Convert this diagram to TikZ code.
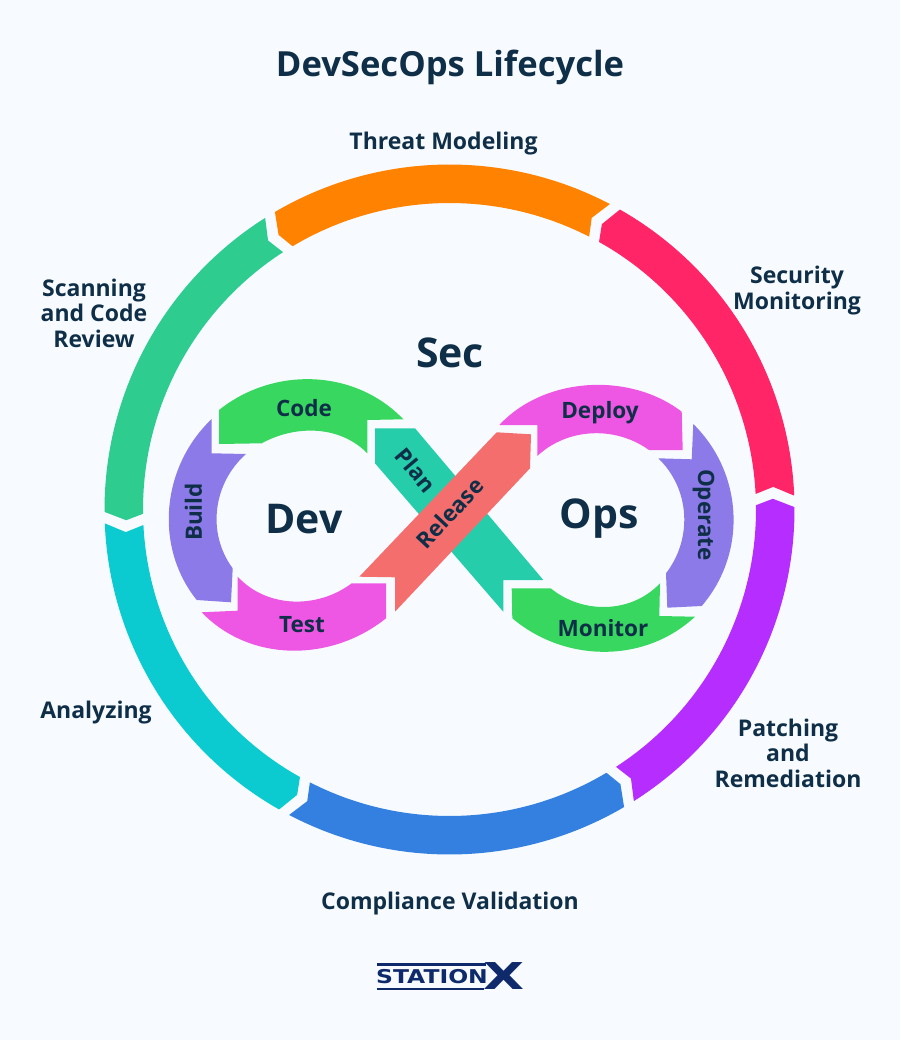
\documentclass[tikz,border=0pt]{standalone}
\usepackage{fontspec}
\setmainfont{Open Sans}
\newfontfamily\logofont{DejaVu Sans}
\definecolor{bgblue}{HTML}{F7FBFF}
\definecolor{inkblue}{HTML}{0F2E47}
\definecolor{logoblue}{HTML}{0F2A6B}
\definecolor{ringorange}{HTML}{FF8200}
\definecolor{ringred}{HTML}{FF2567}
\definecolor{ringpurple}{HTML}{B52EFF}
\definecolor{ringblue}{HTML}{3380E0}
\definecolor{ringcyan}{HTML}{0BCBD0}
\definecolor{ringgreen}{HTML}{2ECC8F}
\definecolor{loopgreen}{HTML}{38D75F}
\definecolor{loopviolet}{HTML}{8B7AE8}
\definecolor{loopmagenta}{HTML}{EE57E4}
\definecolor{loopteal}{HTML}{25CDAB}
\definecolor{loopcoral}{HTML}{F56E6E}
\tikzset{
	outerlabel/.style={text=inkblue, align=center, font=\fontsize{23}{25.5}\selectfont\bfseries},
	looplabel/.style={text=inkblue, font=\fontsize{22.5}{25}\selectfont\bfseries},
	biglabel/.style={text=inkblue, font=\fontsize{41}{45}\selectfont\bfseries}
}
% one piece of the ring, #2 = turn in degrees
\def\ringseg#1#2{\fill[#1, shift={(449.5,509.5)}, rotate=#2] (-120.4:345) arc (-120.4:-62.3:345) -- (-64:324.5) -- (-62.9:306.5) arc (-62.9:-120.8:306.5) -- (-121.9:323.5) -- cycle;}

\begin{document}
\begin{tikzpicture}[x=1pt, y=-1pt]
	%%%%% START %%%%%
	
	\fill[bgblue] (0, 0) rectangle (900, 1040);
	\useasboundingbox (0, 0) rectangle (900, 1040);
	
	\node[text=inkblue, font=\fontsize{34.6}{38}\selectfont\bfseries] (title) at (450, 67) {DevSecOps Lifecycle};
	
	%%%%% outer ring %%%%%
	\ringseg{ringorange}{0}
	\ringseg{ringred}{-60}
	\ringseg{ringpurple}{-120}
	\ringseg{ringblue}{-180}
	\ringseg{ringcyan}{-240}
	\ringseg{ringgreen}{-300}
	
	\node[outerlabel] (threat) at (443.5, 144) {Threat Modeling};
	\node[outerlabel] (monitoring) at (797, 290.5) {Security\\Monitoring};
	\node[outerlabel] (patching) at (788, 753) {Patching\\and\\Remediation};
	\node[outerlabel] (compliance) at (450, 904) {Compliance Validation};
	\node[outerlabel] (analyzing) at (96, 713) {Analyzing};
	\node[outerlabel] (scanning) at (94, 313) {Scanning\\and Code\\Review};
	
	%%%%% left loop %%%%%
	\fill[loopgreen] (219, 410) .. controls (273.7, 366.3) and (355, 368.7) .. (403.3, 419.3) -- (367.3, 420) -- (367.3, 453.3) .. controls (340, 425.4) and (295.9, 424.6) .. (261.7, 443.3) -- (219, 444) -- cycle;
	\fill[loopviolet] (211.7, 419) -- (211.7, 453.3) -- (246, 454) .. controls (213.1, 483.2) and (206.5, 532.9) .. (232.7, 568.3) -- (231, 602.3) -- (196.7, 600) .. controls (153.6, 546.1) and (161.7, 466.5) .. (211.7, 419);
	\fill[loopmagenta] (201.7, 612.3) -- (237.7, 610.7) -- (237.7, 576.7) .. controls (266.9, 608.2) and (317.3, 609.1) .. (351.7, 583.3) -- (386, 583.3) -- (386, 618.3) .. controls (331.4, 662.1) and (250.2, 662.8) .. (201.7, 612.3);
	
	%%%%% right loop %%%%%
	\fill[loopmagenta] (499.3, 425) -- (537.3, 425) -- (537.3, 456) .. controls (567.6, 427.7) and (615.3, 425.8) .. (649, 450) -- (682.7, 450) -- (681.7, 411.7) .. controls (629.2, 371.6) and (544.2, 376.7) .. (499.3, 425);
	\fill[loopviolet] (693.3, 424) -- (691.7, 459.3) -- (658.3, 458.3) .. controls (690, 488.8) and (692.8, 538.4) .. (666, 573.3) -- (667.3, 607.7) -- (701.7, 606) .. controls (747.5, 552.6) and (743.3, 473.4) .. (693.3, 424);
	\fill[loopgreen] (695, 616.7) -- (659.3, 616) -- (660, 583.3) .. controls (631, 614) and (582, 614) .. (550.7, 588.3) -- (511.7, 588.3) -- (512.3, 618.3) .. controls (565.1, 662.8) and (644.5, 663.7) .. (695, 616.7);
	
	%%%%% crossing %%%%%
	\fill[loopteal] (375, 428.3) -- (415, 428.3) -- (543.3, 580) -- (503.3, 580) -- (503.3, 611.7) -- (375, 463.3) -- cycle;
	\fill[loopcoral] (359.3, 576.7) -- (395, 577.3) -- (395, 611.7) -- (530, 468.3) -- (531, 434.3) -- (496.7, 432.3) -- cycle;
	
	\node[looplabel] (code) at (304, 408) {Code};
	\node[looplabel, rotate=90] (build) at (193.5, 512) {Build};
	\node[looplabel] (test) at (302, 625) {Test};
	\node[looplabel] (deploy) at (600, 413) {Deploy};
	\node[looplabel, rotate=-90] (operate) at (703.5, 515) {Operate};
	\node[looplabel] (monitor) at (603, 628) {Monitor};
	\node[looplabel, rotate=-50] (plan) at (416, 470) {Plan};
	\node[looplabel, rotate=47] (release) at (450, 513) {Release};
	
	\node[biglabel] (sec) at (450, 353) {Sec};
	\node[biglabel] (dev) at (304, 519) {Dev};
	\node[biglabel] (ops) at (599, 519) {Ops};
	
	%%%%% logo %%%%%
	\fill[logoblue] (377, 963) rectangle (486, 965.5);
	\fill[logoblue] (377, 987.5) rectangle (484, 990);
	\node[text=logoblue, inner sep=0pt, font=\logofont\fontsize{19}{20}\selectfont\bfseries] (station) at (432, 976.5) {\scalebox{1.235}[1]{STATION}};
	\node[text=logoblue, inner sep=0pt, font=\logofont\fontsize{37}{38}\selectfont\bfseries] (logox) at (504, 976.5) {\scalebox{1.44}[1]{X}};
	
	%%%%% END %%%%%
\end{tikzpicture}
\end{document}
